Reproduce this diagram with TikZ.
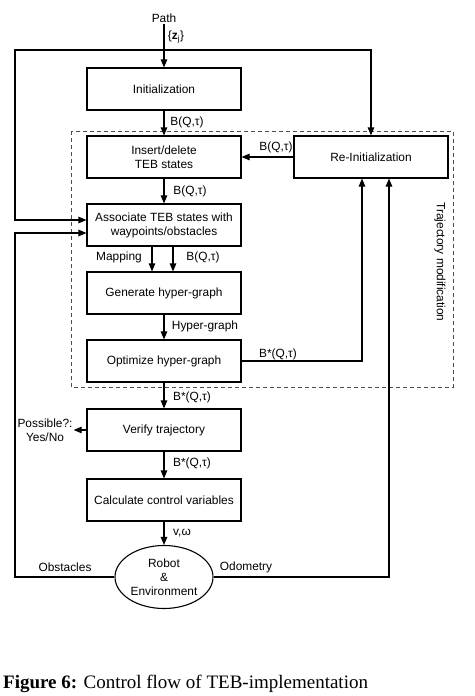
\documentclass[tikz,border=0pt]{standalone}
\usepackage{fontspec}
\setmainfont{Liberation Sans}
\newfontfamily\capfont{Liberation Serif}
\usetikzlibrary{arrows.meta,shapes.geometric,calc}
\begin{document}
\begin{tikzpicture}[x=1pt,y=-1pt,
  txt/.style={font=\fontsize{11.9}{14}\selectfont},
  box/.style={draw,line width=1.1pt,minimum width=154pt,minimum height=42pt,align=center,inner sep=0pt,txt},
  lbl/.style={txt,inner sep=1pt,align=center},
  arr/.style={-{Triangle[length=8pt,width=6.5pt]},line width=1.1pt},
  ln/.style={line width=1.1pt}]
\useasboundingbox (0,0) rectangle (474,696);
% dashed frame
\draw[black!70,line width=1pt,dash pattern=on 4pt off 3pt] (71,131) rectangle (453,387);
\node[lbl,rotate=-90] (traj) at (440,262) {Trajectory modification};
% nodes
\node[lbl] (path) at (164,18) {Path};
\coordinate (j) at (164,50);
\coordinate (tl) at (15,50);
\node[box] (init) at (164,89) {Initialization};
\node[box] (ins) at (164,157) {Insert/delete\\TEB states};
\node[box] (reinit) at (371,157) {Re-Initialization};
\node[box] (assoc) at (164,225) {Associate TEB states with\\waypoints/obstacles};
\node[box] (gen) at (164,293) {Generate hyper-graph};
\node[box] (opt) at (164,361) {Optimize hyper-graph};
\node[box] (ver) at (164,430) {Verify trajectory};
\node[box] (calc) at (164,500) {Calculate control variables};
\node[ellipse,draw,line width=1.1pt,minimum width=98pt,minimum height=63pt,inner sep=0pt,align=center,txt] (robot) at (164,577) {Robot\\\&\\Environment};
\node[lbl] (poss) at (45,430) {Possible?:\\Yes/No};
\coordinate (bl) at (15,577);
% connectors
\draw[ln] (path.south) -- (j);
\fill (j) circle (1.8pt);
\draw[arr] (j) -- (init.north);
\draw[arr] (j) -| (reinit.north);
\draw[arr] (j) -- (tl) |- ($(assoc.west)+(0,-5)$);
\draw[arr] (init.south) -- (ins.north);
\draw[arr] (reinit.west) -- (ins.east);
\draw[arr] (ins.south) -- (assoc.north);
\draw[arr] ($(assoc.south)+(-12,0)$) -- ($(gen.north)+(-12,0)$);
\draw[arr] ($(assoc.south)+(9,0)$) -- ($(gen.north)+(9,0)$);
\draw[arr] (gen.south) -- (opt.north);
\draw[arr] (opt.east) -| ($(reinit.south)+(-9,0)$);
\draw[arr] (opt.south) -- (ver.north);
\draw[arr] (ver.west) -- (poss.east);
\draw[arr] (ver.south) -- (calc.north);
\draw[arr] (calc.south) -- (robot.north);
\draw[arr] (robot.west) -- (bl) |- ($(assoc.west)+(0,8)$);
\draw[arr] (robot.east) -| ($(reinit.south)+(18,0)$);
% labels
\node[lbl] (lz) at (176,37) {\{\textbf{z}\textsubscript{j}\}};
\node[lbl] (l1) at (187,122) {B(Q,τ)};
\node[lbl] (l2) at (276,147) {B(Q,τ)};
\node[lbl] (l3) at (190,191) {B(Q,τ)};
\node[lbl] (l4) at (119,257) {Mapping};
\node[lbl] (l5) at (203,257) {B(Q,τ)};
\node[lbl] (l6) at (205,326) {Hyper-graph};
\node[lbl] (l7) at (278,354) {B*(Q,τ)};
\node[lbl] (l8) at (192,397) {B*(Q,τ)};
\node[lbl] (l9) at (192,463) {B*(Q,τ)};
\node[lbl] (l10) at (182,533) {v,ω};
\node[lbl] (l11) at (65,567) {Obstacles};
\node[lbl] (l12) at (246,567) {Odometry};
% caption
\node[anchor=base west,inner sep=0pt,font=\capfont\fontsize{19}{22}\selectfont] (cap) at (3,688) {\textbf{Figure 6:} Control flow of TEB-implementation};
\end{tikzpicture}
\end{document}
